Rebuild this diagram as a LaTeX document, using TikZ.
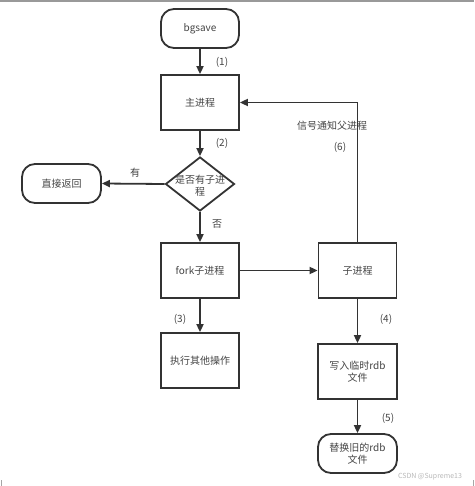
\documentclass[tikz,border=0pt]{standalone}
\usepackage{fontspec}
\setmainfont{Noto Sans CJK SC}
\usetikzlibrary{arrows.meta,shapes.geometric}
\definecolor{ln}{HTML}{333333}
\definecolor{tx}{HTML}{444444}
\tikzset{
  base/.style={draw=ln,line width=1.8pt,fill=white,text=tx,font=\fontsize{10}{12}\selectfont,align=center,inner sep=1pt},
  boxnode/.style={base,rectangle,minimum width=78pt,minimum height=55pt},
  termnode/.style={base,rectangle,rounded corners=13pt,minimum width=78pt,minimum height=39pt},
  decnode/.style={base,diamond,minimum width=69pt,minimum height=54pt,inner sep=0pt,aspect=1.28},
  arr/.style={draw=ln,line width=1.8pt,-{Triangle[length=8pt,width=7pt]}},
  lbl/.style={text=tx,font=\fontsize{10}{12}\selectfont,inner sep=0pt}
}
\begin{document}
\begin{tikzpicture}[x=1pt,y=-1pt]
\useasboundingbox (0,0) rectangle (474,486);
\fill[white] (0,0) rectangle (474,486);
\fill[gray!80] (0,0) rectangle (474,2);
\draw[gray!70,line width=0.6pt] (1,480) -- (1,486) (473,480) -- (473,486);

\node[termnode] (bg) at (200,28.5) {bgsave};
\node[boxnode] (main) at (200,102.5) {主进程};
\node[decnode] (dec) at (200,184) {};
\node[lbl,align=center] (dectxt) at (200,185.5) {是否有子进\\程};
\node[termnode,minimum width=79pt] (ret) at (61.5,183.5) {直接返回};
\node[boxnode] (fork) at (200,270.5) {fork子进程};
\node[boxnode] (sub) at (357.5,270.5) {子进程};
\node[boxnode] (other) at (200,360.5) {执行其他操作};
\node[boxnode,minimum width=79pt] (write) at (357.5,371.5) {写入临时rdb\\文件};
\node[termnode,minimum width=79pt] (repl) at (357.5,453.5) {替换旧的rdb\\文件};

\draw[arr] (bg) -- (main);
\draw[arr] (main) -- (dec);
\draw[arr] (dec.west) -- (ret.east);
\draw[arr] (dec.south) -- (fork.north);
\draw[arr] (fork.east) -- (sub.west);
\draw[arr] (fork) -- (other);
\draw[arr] (sub) -- (write);
\draw[arr] (write) -- (repl);
\draw[arr] (sub.north) |- (main.east);

\node[lbl] (l1) at (222,62) {(1)};
\node[lbl] (l2) at (222,143) {(2)};
\node[lbl] (lyou) at (135,173) {有};
\node[lbl] (lfou) at (217,224) {否};
\node[lbl] (lsig) at (332,126) {信号通知父进程};
\node[lbl] (l6) at (340,147) {(6)};
\node[lbl] (l3) at (180,319) {(3)};
\node[lbl] (l4) at (386,319) {(4)};
\node[lbl] (l5) at (388,418) {(5)};
\node[text=gray!55,font=\fontsize{7}{8}\selectfont,inner sep=0pt] (wm) at (430,477) {CSDN @Supreme13};
\end{tikzpicture}
\end{document}
